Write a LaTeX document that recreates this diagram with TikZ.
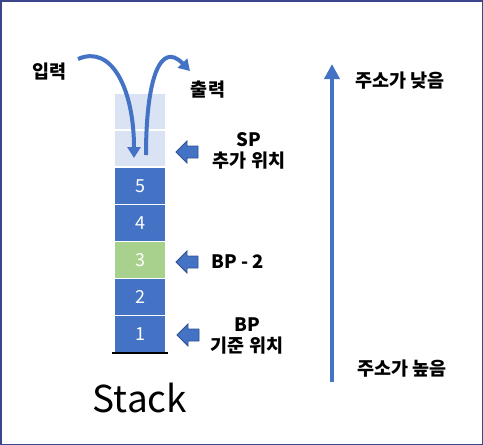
\documentclass[tikz,border=0pt]{standalone}
\usepackage{fontspec}
\setmainfont{Noto Sans CJK KR}
\usetikzlibrary{arrows.meta}
\definecolor{cblue}{HTML}{4472C4}
\definecolor{cdark}{HTML}{2F528F}
\definecolor{clight}{HTML}{DAE3F3}
\definecolor{cgreen}{HTML}{A9D18E}
\definecolor{cframe}{HTML}{3C468C}
\tikzset{
  cell/.style={draw=white, line width=1.5pt, minimum width=52pt, minimum height=37.1pt, inner sep=0pt, text=white, font=\fontsize{18}{18}\selectfont},
  lbl/.style={inner sep=0pt, align=center, font=\fontsize{18.5}{21}\selectfont\bfseries},
  flow/.style={draw=cblue, line width=4pt, -{Triangle[length=11pt,width=13pt]}},
  blockarrow/.pic={\draw[fill=cblue, draw=cdark, line width=0.8pt] (-11,0) -- (0,-11) -- (0,-6) -- (11,-6) -- (11,6) -- (0,6) -- (0,11) -- cycle;}
}
\begin{document}
\begin{tikzpicture}[x=1pt, y=-1pt]
\useasboundingbox (0,0) rectangle (483,445);
\draw[cframe, line width=1.5pt] (0.75,0.75) rectangle (482.25,444.25);
% stack cells
\node[cell, fill=clight] (e2) at (140,111.55) {};
\node[cell, fill=clight] (e1) at (140,148.65) {};
\node[cell, fill=cblue] (c5) at (140,185.75) {5};
\node[cell, fill=cblue] (c4) at (140,222.85) {4};
\node[cell, fill=cgreen] (c3) at (140,259.95) {3};
\node[cell, fill=cblue] (c2) at (140,297.05) {2};
\node[cell, fill=cblue] (c1) at (140,334.15) {1};
\draw[black, line width=2pt] ([xshift=-1pt]c1.south west) -- ([xshift=1pt]c1.south east);
\node[inner sep=0pt, font=\fontsize{37}{37}\selectfont] (stack) at (140,398) {Stack};
% input / output
\node[lbl] (in) at (50,72) {입력};
\node[lbl] (out) at (208,90) {출력};
\coordinate (inS) at (78,59);
\coordinate (inE) at (134,158);
\coordinate (outS) at (146,155);
\coordinate (outE) at (190,71);
\draw[flow] (inS) .. controls (112,44) and (134,90) .. (inE);
\draw[flow] (outS) .. controls (146,80) and (160,40) .. (outE);
% pointers
\pic at (187,152) {blockarrow};
\pic at (187,262) {blockarrow};
\pic at (188,335) {blockarrow};
\node[lbl] (sp) at (249,151) {SP\\추가 위치};
\node[lbl] (bp2) at (238,262) {BP - 2};
\node[lbl] (bp) at (247,336) {BP\\기준 위치};
% address arrow
\coordinate (lo) at (332,382);
\coordinate (hi) at (332,64);
\draw[draw=cblue, line width=4.5pt, -{Triangle[length=15pt,width=15pt]}] (lo) -- (hi);
\node[lbl] (low) at (400,81) {주소가 낮음};
\node[lbl] (high) at (402,369) {주소가 높음};
\end{tikzpicture}
\end{document}
